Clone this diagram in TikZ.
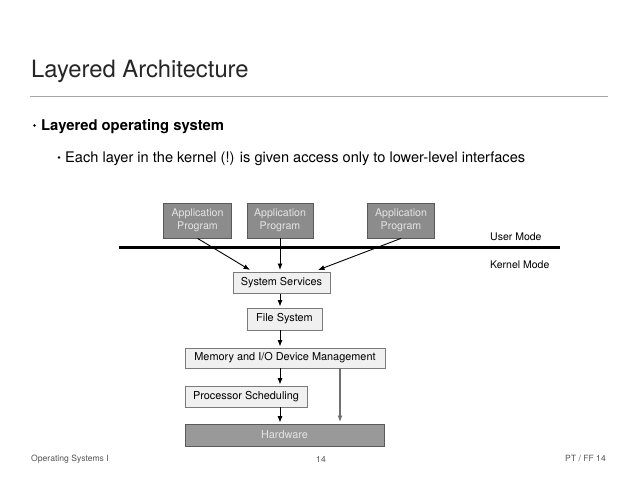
\documentclass[tikz,border=0pt]{standalone}
\usepackage{fontspec}
\setmainfont{TeX Gyre Heros}
\usetikzlibrary{arrows.meta,calc}
\definecolor{appfill}{HTML}{8C8C8C}
\definecolor{appdraw}{HTML}{5A5A5A}
\definecolor{apptext}{HTML}{E4E4E4}
\definecolor{lightfill}{HTML}{F0F0F0}
\definecolor{lightdraw}{HTML}{7A7A7A}
\definecolor{hwfill}{HTML}{999999}
\definecolor{titlecol}{HTML}{262626}
\definecolor{footcol}{HTML}{555555}
\definecolor{garrcol}{HTML}{707070}
\tikzset{
  appbox/.style={draw=appdraw, fill=appfill, text=apptext, line width=0.8pt,
    font=\fontsize{10.6}{12.8}\selectfont, align=center, inner sep=0pt,
    minimum height=35pt},
  layerbox/.style={draw=lightdraw, fill=lightfill, text=black, line width=0.8pt,
    font=\fontsize{10.9}{12}\selectfont, inner sep=0pt, minimum height=21pt},
  hwbox/.style={draw=appdraw, fill=hwfill, text=apptext, line width=0.8pt,
    font=\fontsize{10.9}{12}\selectfont, inner sep=0pt, minimum height=22pt},
  arr/.style={line width=0.9pt, -{Latex[length=6.5pt,width=5pt]}},
  garr/.style={line width=1.4pt, draw=garrcol, -{Latex[length=6.5pt,width=5pt]}},
  modelabel/.style={anchor=base west, inner sep=0pt, font=\fontsize{10.5}{12}\selectfont},
  foot/.style={inner sep=0pt, text=footcol, font=\fontsize{8.6}{10}\selectfont},
}
\begin{document}
\begin{tikzpicture}[x=1pt,y=-1pt]
\useasboundingbox (0,0) rectangle (638,479);
\fill[white] (0,0) rectangle (638,479);

% title and rule
\node[anchor=base west, inner sep=0pt, text=titlecol, font=\fontsize{23.8}{28}\selectfont] (title) at (31,77.5) {Layered Architecture};
\coordinate (r1) at (30,96.5);
\coordinate (r2) at (608,96.5);
\draw[gray!70, line width=0.8pt] (r1) -- (r2);

% bullets
\fill (34.5,125.5) circle (1.4);
\node[anchor=base west, inner sep=0pt, font=\bfseries\fontsize{14.8}{17}\selectfont] (b1) at (41,130.5) {Layered operating system};
\fill (59,157.5) circle (1.3);
\node[anchor=base west, inner sep=0pt, font=\fontsize{14.6}{17}\selectfont] (b2) at (65,162.5) {Each layer in the kernel (!) is given access only to lower-level interfaces};

% application programs
\node[appbox, minimum width=68pt] (a1) at (197.5,220.5) {Application\\Program};
\node[appbox, minimum width=66pt] (a2) at (280,220.5) {Application\\Program};
\node[appbox, minimum width=67pt] (a3) at (401,220.5) {Application\\Program};

% mode line
\coordinate (m1) at (119,247.5);
\coordinate (m2) at (560,247.5);
\draw[line width=2.6pt] (m1) -- (m2);
\node[modelabel] (um) at (490,240) {User Mode};
\node[modelabel] (km) at (490,268) {Kernel Mode};

% layers
\node[layerbox, minimum width=97pt] (sys) at (281.5,283) {System Services};
\node[layerbox, minimum width=75pt, minimum height=22pt] (fs) at (284.5,319) {File System};
\node[layerbox, minimum width=200pt, minimum height=20pt] (mem) at (285,358) {Memory and I/O Device Management};
\node[layerbox, minimum width=122pt] (ps) at (246,396.5) {Processor Scheduling};
\node[hwbox, minimum width=199pt] (hw) at (284.5,435) {Hardware};

% connectors
\coordinate (t1) at (250,270);
\coordinate (t2) at (280,270);
\coordinate (t3) at (318,270);
\coordinate (col) at (280,0);
\coordinate (gcol) at (340,0);
\draw[arr] (a1.south) -- (t1);
\draw[arr] (a2.south) -- (t2);
\draw[arr] (a3.south) -- (t3);
\draw[arr, shorten >=1pt] (sys.south -| col) -- (fs.north -| col);
\draw[arr, shorten >=1pt] (fs.south -| col) -- (mem.north -| col);
\draw[arr, shorten >=1pt] (mem.south -| col) -- (ps.north -| col);
\draw[arr, shorten >=1pt] (ps.south -| col) -- (hw.north -| col);
\draw[garr, shorten >=1.5pt] (mem.south -| gcol) -- (hw.north -| gcol);

% footer
\node[foot, anchor=base west] (f1) at (31,461) {Operating Systems I};
\node[foot, anchor=base] (f2) at (321,462) {14};
\node[foot, anchor=base east] (f3) at (606,461) {PT / FF 14};
\end{tikzpicture}
\end{document}
